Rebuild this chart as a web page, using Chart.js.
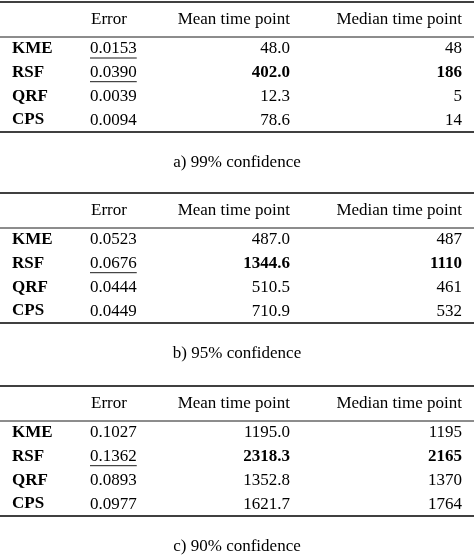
<!DOCTYPE html>
<html lang="en">
<head>
<meta charset="UTF-8">
<title>Confidence tables</title>
<script src="https://cdn.jsdelivr.net/npm/chart.js"></script>
<style>body{margin:0;background:#fff}</style>
</head>
<body>
<canvas id="myChart" width="474" height="559"></canvas>
<script>
// table data
const methods = ['KME', 'RSF', 'QRF', 'CPS'];
const headers = ['Error', 'Mean time point', 'Median time point'];
const captions = ['a) 99% confidence', 'b) 95% confidence', 'c) 90% confidence'];

const errors99 = ['0.0153', '0.0390', '0.0039', '0.0094'];
const means99 = ['48.0', '402.0', '12.3', '78.6'];
const medians99 = ['48', '186', '5', '14'];

const errors95 = ['0.0523', '0.0676', '0.0444', '0.0449'];
const means95 = ['487.0', '1344.6', '510.5', '710.9'];
const medians95 = ['487', '1110', '461', '532'];

const errors90 = ['0.1027', '0.1362', '0.0893', '0.0977'];
const means90 = ['1195.0', '2318.3', '1352.8', '1621.7'];
const medians90 = ['1195', '2165', '1370', '1764'];

// which error cells are underlined, which rows are bold in time columns
const underlined = [[0, 1], [1], [1]];
const boldRow = 1;

const tables = [
    { top: 2, errors: errors99, means: means99, medians: medians99 },
    { top: 193, errors: errors95, means: means95, medians: medians95 },
    { top: 386, errors: errors90, means: means90, medians: medians90 }
];

const serif = '"Liberation Serif", "DejaVu Serif", serif';

const tablePlugin = {
    id: 'tablePlugin',
    afterDraw(chart) {
        const ctx = chart.ctx;
        const xs = chart.scales.x, ys = chart.scales.y;
        const X = v => xs.getPixelForValue(v);
        const Y = v => ys.getPixelForValue(v);
        ctx.save();
        ctx.fillStyle = '#000';
        ctx.strokeStyle = '#000';
        ctx.textBaseline = 'middle';

        const rule = (y, w) => {
            ctx.lineWidth = w;
            ctx.beginPath();
            ctx.moveTo(X(0), Y(y));
            ctx.lineTo(X(474), Y(y));
            ctx.stroke();
        };
        const text = (s, x, y, align, bold) => {
            ctx.font = (bold ? 'bold ' : '') + '17px ' + serif;
            ctx.textAlign = align;
            ctx.fillText(s, X(x), Y(y));
            return ctx.measureText(s).width;
        };

        tables.forEach((t, ti) => {
            const top = t.top;
            rule(top, 1.4);
            text(headers[0], 91, top + 18, 'left');
            text(headers[1], 290, top + 18, 'right');
            text(headers[2], 462, top + 18, 'right');
            rule(top + 35, 0.9);
            methods.forEach((m, i) => {
                const y = top + 47 + i * 23.7;
                text(m, 12, y, 'left', true);
                const w = text(t.errors[i], 90, y, 'left');
                if (underlined[ti].includes(i)) {
                    ctx.lineWidth = 0.9;
                    ctx.beginPath();
                    ctx.moveTo(X(90), Y(y + 9));
                    ctx.lineTo(X(90) + w, Y(y + 9));
                    ctx.stroke();
                }
                text(t.means[i], 290, y, 'right', i === boldRow);
                text(t.medians[i], 462, y, 'right', i === boldRow);
            });
            rule(top + 130, 1.4);
            text(captions[ti], 237, top + 161, 'center');
        });
        ctx.restore();
    }
};

new Chart(document.getElementById('myChart').getContext('2d'), {
    type: 'scatter',
    data: { datasets: [{ data: [] }] },
    options: {
        responsive: false,
        animation: false,
        layout: { padding: 0 },
        plugins: { legend: { display: false }, tooltip: { enabled: false } },
        scales: {
            x: { type: 'linear', min: 0, max: 474, display: false },
            y: { type: 'linear', min: 0, max: 559, reverse: true, display: false }
        }
    },
    plugins: [tablePlugin]
});
</script>
</body>
</html>
